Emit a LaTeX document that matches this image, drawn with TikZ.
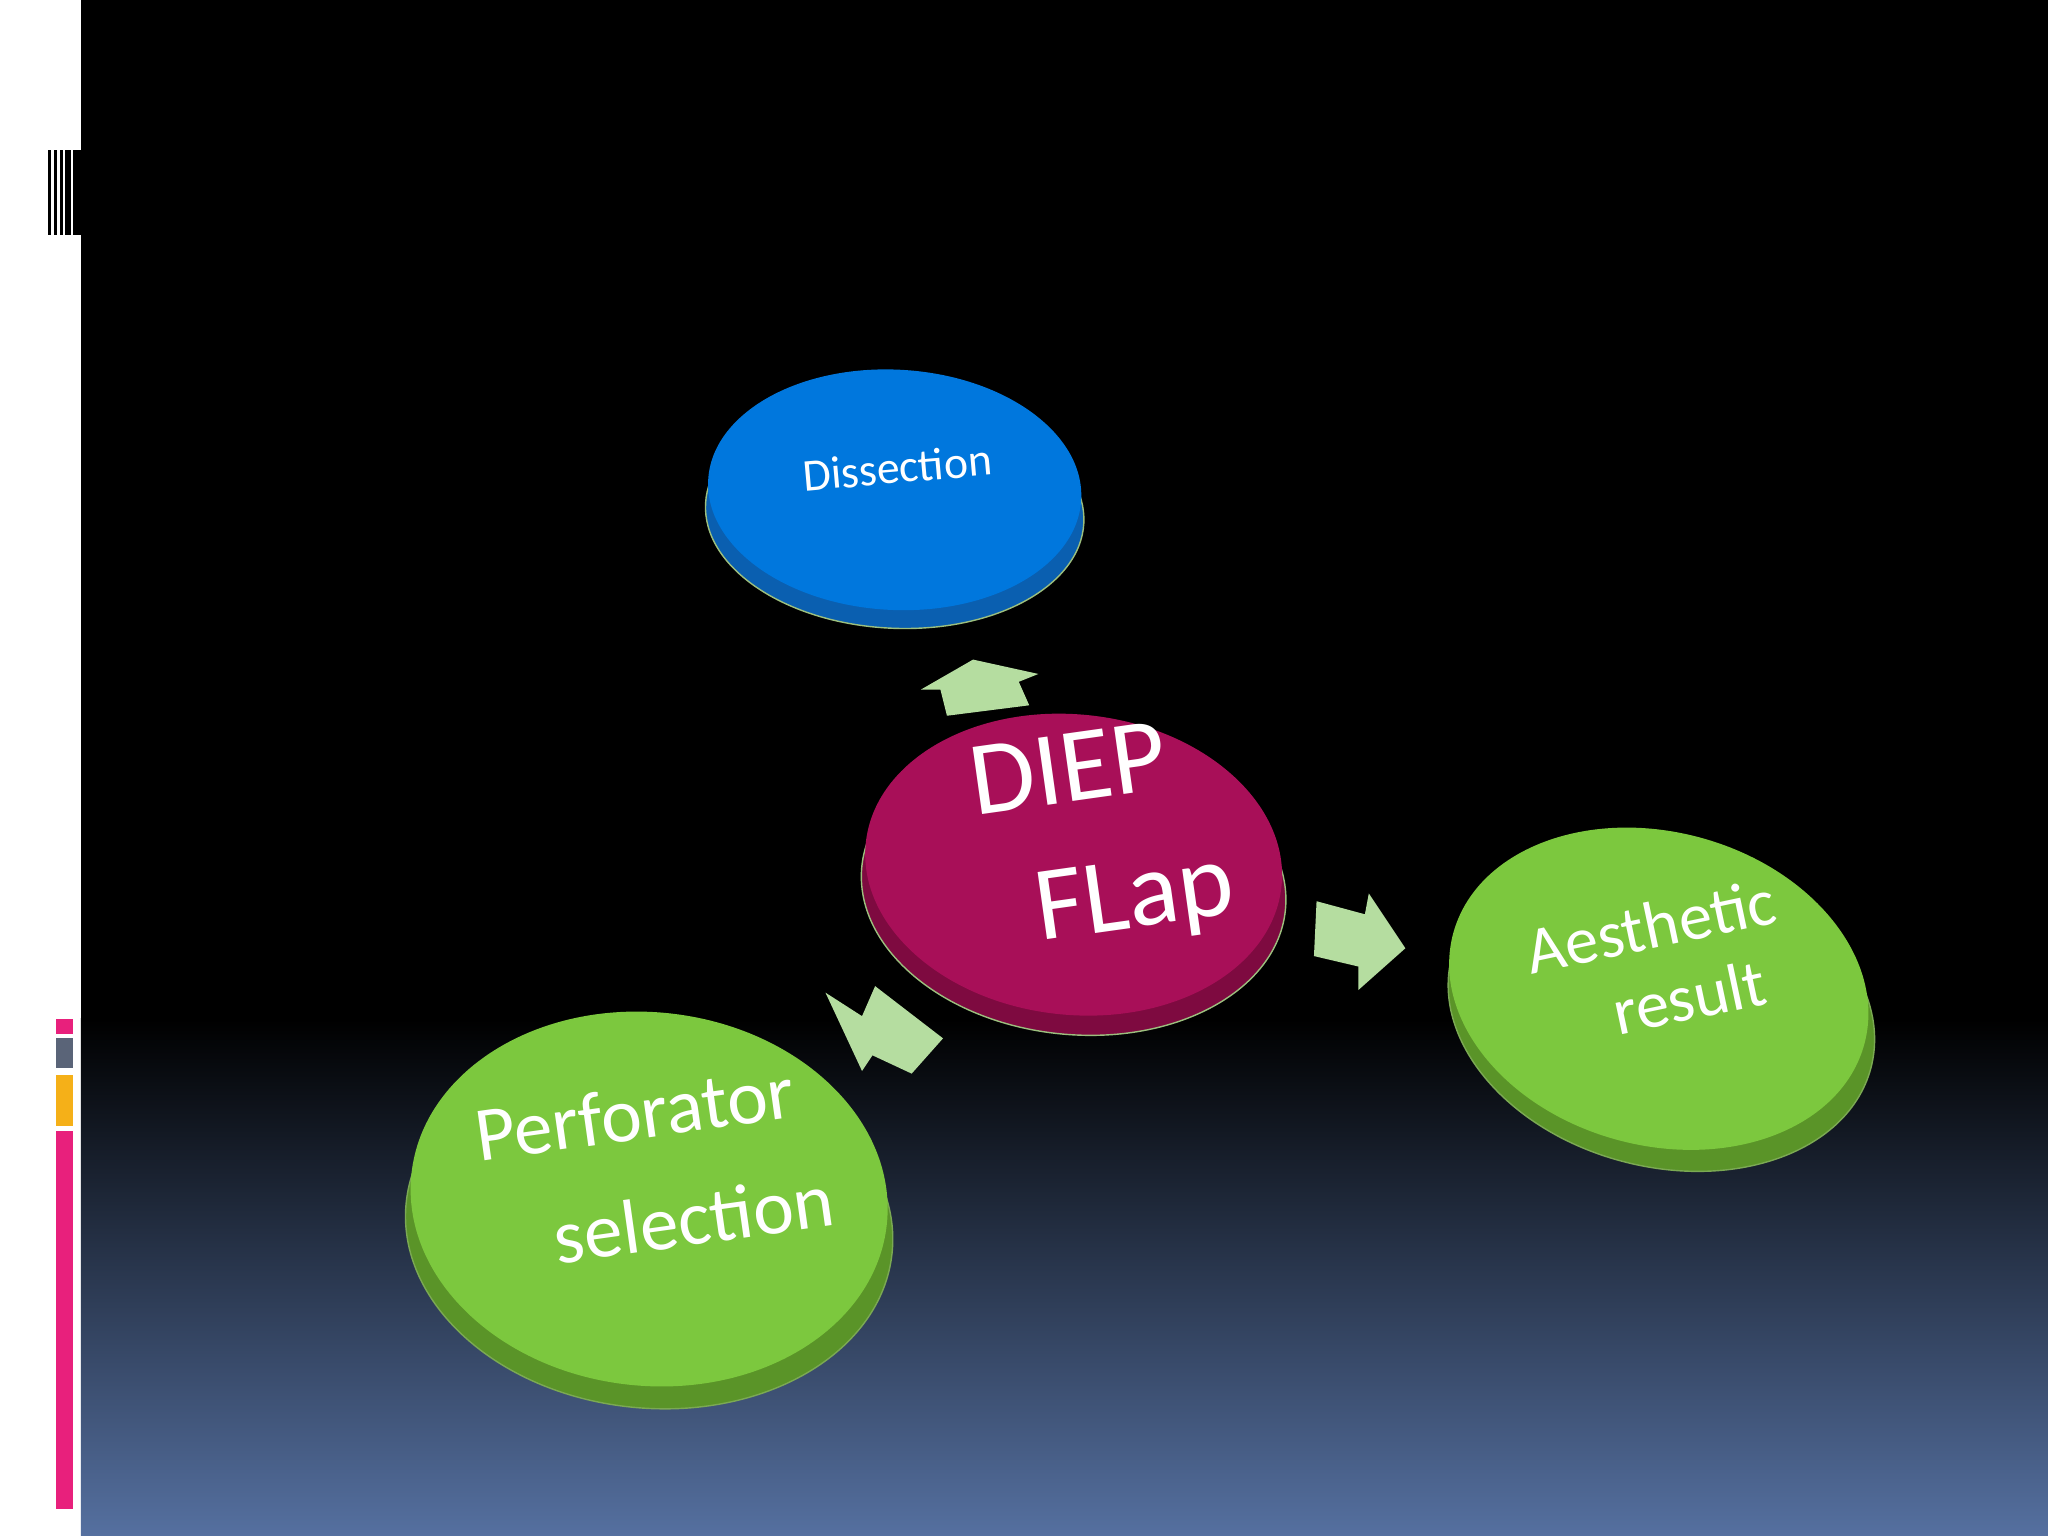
\documentclass[tikz,border=0pt]{standalone}
\usepackage{fontspec}
\setmainfont{Carlito}
\definecolor{bgblue}{HTML}{5570A0}
\definecolor{dblue}{HTML}{0077DD}
\definecolor{dblue2}{HTML}{0A5FB0}
\definecolor{mag}{HTML}{A80F58}
\definecolor{mag2}{HTML}{7E0A40}
\definecolor{grn}{HTML}{7CC83E}
\definecolor{grn2}{HTML}{5A9428}
\definecolor{arr}{HTML}{B5DDA0}
\definecolor{spink}{HTML}{E8207C}
\definecolor{sgray}{HTML}{5A6478}
\definecolor{sorange}{HTML}{F5B018}
\tikzset{
 lbl/.style={text=white,align=center,inner sep=0pt},
 arrw/.style={fill=arr,draw=none}
}
\begin{document}
\begin{tikzpicture}[x=0.01306cm,y=-0.01306cm]
\useasboundingbox (0,0) rectangle (1568,1176);
\fill[white] (0,0) rectangle (62,1176);
\fill[black] (62,0) rectangle (1568,781);
\shade[top color=black,bottom color=bgblue] (62,780) rectangle (1568,1176);
% left strip decorations
\foreach \x/\w in {37/2,41/3,46/2,50/4,56/6}{\fill[black] (\x,115) rectangle (\x+\w,180);}
\fill[spink] (43,780) rectangle (56,792);
\fill[sgray] (43,795) rectangle (56,818);
\fill[sorange] (43,823) rectangle (56,862);
\fill[spink] (43,866) rectangle (56,1155);
% Dissection
\fill[dblue2,draw=grn2!60,rotate around={-3:(685,393)}] (685,393) ellipse (145 and 88);
\fill[dblue,rotate around={-3:(685,375)}] (685,375) ellipse (143 and 92);
\node[lbl,font=\fontsize{13}{13}\selectfont,rotate=5] (dis) at (687,358) {Dissection};
% DIEP
\fill[mag2,draw=grn2!60,rotate around={-6:(822,680)}] (822,680) ellipse (163 and 112);
\fill[mag,rotate around={-6:(822,662)}] (822,662) ellipse (160 and 115);
\node[lbl,font=\fontsize{30}{38}\selectfont,rotate=8] (diep) at (826,645) {DIEP\\\ \ \ \ FLap};
% Aesthetic
\fill[grn2,draw=grn2!80,rotate around={-15:(1272,775)}] (1272,775) ellipse (166 and 118);
\fill[grn,rotate around={-15:(1270,757)}] (1270,757) ellipse (163 and 120);
\node[lbl,font=\fontsize{19}{22}\selectfont,rotate=12] (aes) at (1270,738) {Aesthetic\\\ \ \ result};
% Perforator
\fill[grn2,draw=grn2!80,rotate around={-6:(497,940)}] (497,940) ellipse (187 and 138);
\fill[grn,rotate around={-6:(497,918)}] (497,918) ellipse (183 and 143);
\node[lbl,font=\fontsize{22}{32}\selectfont,rotate=8] (perf) at (492,895) {Perforator\\\ \ \ \ \ selection};
% arrows
\fill[arrw] (725,548) -- (720,528) -- (705,528) -- (745,505) -- (795,516) -- (780,522) -- (788,540) -- cycle;
\fill[arrw] (1008,690) -- (1045,700) -- (1048,684) -- (1076,726) -- (1040,758) -- (1040,740) -- (1006,732) -- cycle;
\fill[arrw] (722,795) -- (698,822) -- (668,808) -- (660,820) -- (632,760) -- (660,778) -- (670,755) -- cycle;
\end{tikzpicture}
\end{document}
